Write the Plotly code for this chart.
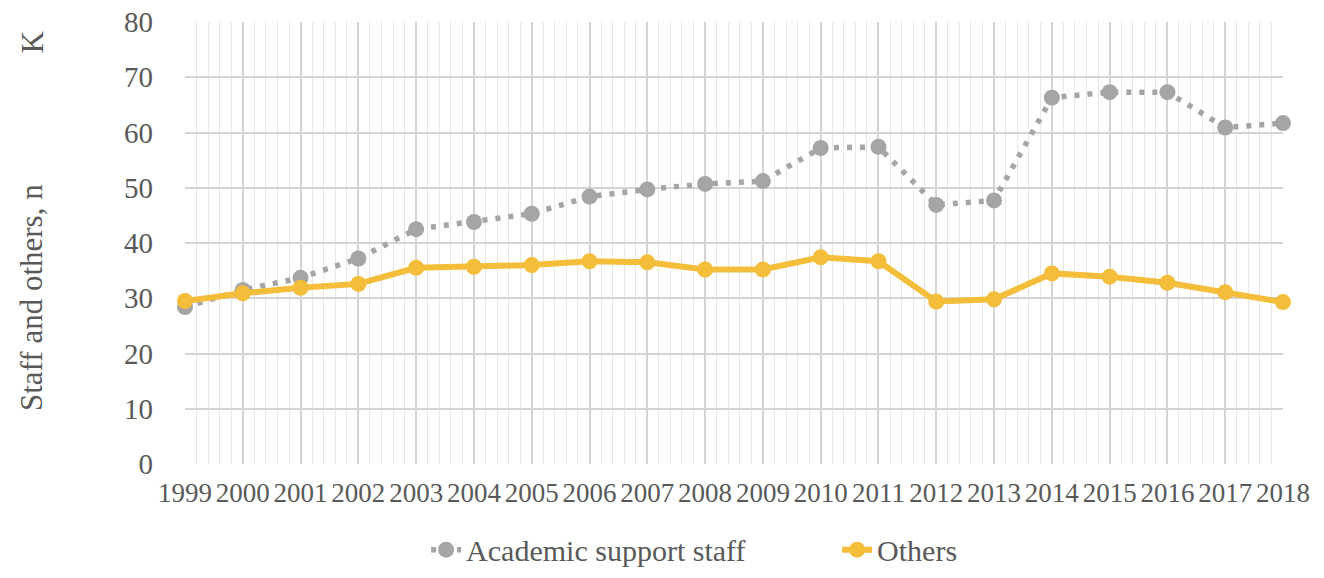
import plotly.graph_objects as go

years = list(range(1999, 2019))
academic = [28.4, 31.5, 33.7, 37.2, 42.5, 43.8, 45.3, 48.4, 49.7, 50.7, 51.2,
            57.2, 57.4, 46.9, 47.7, 66.3, 67.3, 67.3, 60.9, 61.7]
others = [29.5, 30.9, 31.9, 32.6, 35.5, 35.7, 36.0, 36.7, 36.5, 35.2, 35.2,
          37.4, 36.7, 29.4, 29.8, 34.5, 33.9, 32.8, 31.1, 29.3]

FONT = "Liberation Serif"
TXT = "#595959"

minor_vals = [y + k * 0.2 for y in years[:-1] for k in range(1, 5)]

fig = go.Figure()
fig.add_trace(go.Scatter(
    x=years, y=academic, name="Academic support staff", mode="lines+markers",
    line=dict(color="#a5a5a5", width=5.5, dash="5px,8px"),
    marker=dict(color="#a5a5a5", size=16, symbol="circle"),
    cliponaxis=False,
))
fig.add_trace(go.Scatter(
    x=years, y=others, name="Others", mode="lines+markers",
    line=dict(color="#f4bd3a", width=6),
    marker=dict(color="#f4bd3a", size=16, symbol="circle"),
    cliponaxis=False,
))

fig.update_layout(
    width=1324, height=578,
    margin=dict(l=185, r=41, t=22, b=114, autoexpand=False),
    paper_bgcolor="white", plot_bgcolor="white",
    font=dict(family=FONT, size=28, color=TXT),
    showlegend=True,
    legend=dict(orientation="h", x=0.2196, xanchor="left", y=-0.135, yanchor="top",
                font=dict(family=FONT, size=30, color=TXT),
                entrywidth=366, entrywidthmode="pixels",
                tracegroupgap=0),
    xaxis=dict(
        range=[1999, 2018], tickmode="array", tickvals=years,
        ticktext=[str(y) for y in years], automargin=False,
        showgrid=True, gridcolor="#d4d4d4", gridwidth=2,
        minor=dict(tickmode="array", tickvals=minor_vals, showgrid=True,
                   gridcolor="#e8e8e8", gridwidth=1.2),
        zeroline=False, showline=False, ticks="",
        tickfont=dict(family=FONT, size=27, color=TXT),
        ticklabelstandoff=10,
    ),
    yaxis=dict(
        range=[0, 80], dtick=10, showgrid=True, gridcolor="#d4d4d4", gridwidth=2,
        zeroline=False, showline=False, ticks="", automargin=False,
        tickfont=dict(family=FONT, size=29, color=TXT),
        ticklabelstandoff=31,
    ),
    annotations=[
        dict(text="Staff and others, n", textangle=-90, xref="paper", yref="paper",
             x=-0.1393, y=0.3756, xanchor="center", yanchor="middle", showarrow=False,
             font=dict(family=FONT, size=31, color=TXT)),
        dict(text="K", textangle=-90, xref="paper", yref="paper",
             x=-0.1393, y=0.9536, xanchor="center", yanchor="middle", showarrow=False,
             font=dict(family=FONT, size=31, color=TXT)),
    ],
)

fig.write_html("out.html")
